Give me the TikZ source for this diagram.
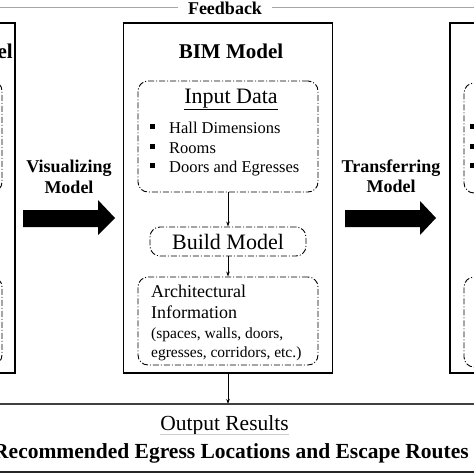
\documentclass[tikz,border=0pt]{standalone}
\usepackage{fontspec}
\setmainfont{Liberation Serif}
\usetikzlibrary{positioning}
\usetikzlibrary{arrows.meta}
\usetikzlibrary{calc}

\tikzset{
	mainbox/.style={draw, line width=1.5pt, minimum width=209pt, minimum height=350pt, inner sep=0pt},
	dotbox/.style={draw, rounded corners=10pt, line width=0.9pt, dash pattern=on 6pt off 2pt on 1pt off 2pt, inner sep=0pt},
	thinarrow/.style={-{Stealth[length=5pt,width=3.5pt]}, line width=0.7pt},
	bigtitle/.style={font=\fontsize{21}{24}\selectfont\bfseries, inner sep=0pt},
	arrowlabel/.style={font=\fontsize{18}{20.5}\selectfont\bfseries, align=center, inner sep=0pt},
	plain/.style={font=\fontsize{16.5}{19}\selectfont, inner sep=0pt},
}

\begin{document}
\begin{tikzpicture}[x=1pt,y=-1pt]
			\useasboundingbox (0,0) rectangle (474,474);
			\clip (0,0) rectangle (474,474);
			
			% Feedback line on top
			\node[font=\fontsize{18}{20}\selectfont\bfseries, anchor=base, inner xsep=10pt, inner ysep=0pt] (fb) at (225,14) {Feedback};
			\coordinate (fbL) at (0,7);
			\coordinate (fbR) at (474,7);
			\draw[gray!70, line width=0.9pt] (fbL) -- (fb.west |- fbL);
			\draw[gray!70, line width=0.9pt] (fb.east |- fbR) -- (fbR);
			
			% Define the three model boxes
			\node[mainbox] (left) at (-89.5,198) {};
			\node[mainbox] (bim) at (228,198) {};
			\node[mainbox] (right) at (554.5,198) {};
			
			% Left box (cut off)
			\node[bigtitle, anchor=base east] (lefttitle) at (13,58) {el};
			\node[dotbox, minimum width=180pt, minimum height=111pt] (leftin) at (-88,136.5) {};
			\node[dotbox, minimum width=180pt, minimum height=88pt] (leftarch) at (-88,321) {};
			
			% BIM box
			\node[bigtitle, anchor=base] (bimtitle) at (231,58) {BIM Model};
			\node[dotbox, minimum width=180pt, minimum height=111pt] (input) at (228,136.5) {};
			\node[font=\fontsize{22}{24}\selectfont, anchor=base, inner sep=0pt] (inputtitle) at (231,103) {\underline{Input Data}};
			\foreach \y/\txt in {133/Hall Dimensions, 153/Rooms, 172/Doors and Egresses}
			{
				\fill (150,\y-9.5) rectangle (155,\y-4.5);
				\node[plain, anchor=base west] at (169,\y) {\txt};
			}
			\node[dotbox, minimum width=156pt, minimum height=29pt, font=\fontsize{22}{24}\selectfont] (build) at (228,241.5) {Build Model};
			\node[dotbox, minimum width=180pt, minimum height=88pt] (arch) at (228,321) {};
			\node[font=\fontsize{18}{20}\selectfont, anchor=base west, inner sep=0pt] (arch1) at (151,297) {Architectural};
			\node[font=\fontsize{18}{20}\selectfont, anchor=base west, inner sep=0pt] (arch2) at (151,318) {Information};
			\node[font=\fontsize{15.5}{18}\selectfont, anchor=base west, inner sep=0pt] (arch3) at (151,338) {(spaces, walls, doors,};
			\node[font=\fontsize{15.5}{18}\selectfont, anchor=base west, inner sep=0pt] (arch4) at (151,357) {egresses, corridors, etc.)};
			
			% Right box (cut off)
			\node[dotbox, minimum width=180pt, minimum height=110pt] (rightin) at (554,138) {};
			\node[dotbox, minimum width=180pt, minimum height=90pt] (rightarch) at (554,322) {};
			\foreach \y in {133,153,172}
			\fill (470,\y-9.5) rectangle (475,\y-4.5);
			
			% Draw the thin arrows
			\draw[thinarrow] (input.south) -- (build.north);
			\draw[thinarrow] (build.south) -- (arch.north);
			\coordinate (outL) at (0,404);
			\coordinate (outR) at (474,404);
			\coordinate (outhit) at (228,404);
			\draw[thinarrow] (bim.south) -- (outhit);
			
			% Big arrows between boxes
			\node[arrowlabel] (vislabel) at (69,177) {Visualizing\\Model};
			\fill (23,210) -- (98,210) -- (98,200) -- (115,218) -- (98,235) -- (98,227) -- (23,227) -- cycle;
			\node[arrowlabel] (translabel) at (391,176) {Transferring\\Model};
			\fill (345,210) -- (420,210) -- (420,201) -- (436,218) -- (420,235) -- (420,227) -- (345,227) -- cycle;
			
			% Output part
			\draw[black!75, line width=1.2pt] (outL) -- (outR);
			\node[font=\fontsize{21.5}{24}\selectfont, anchor=base, inner sep=0pt] (outres) at (224.5,430) {Output Results};
			\draw[gray!40, line width=0.6pt] ($(outres.base west)+(0,4)$) -- ($(outres.base east)+(0,4)$);
			\node[font=\fontsize{21.5}{24}\selectfont\bfseries, anchor=base east, inner sep=0pt] (recom) at (469,458) {Recommended Egress Locations and Escape Routes};
			\coordinate (botL) at (0,472);
			\coordinate (botR) at (474,472);
			\draw[black!85, line width=2.5pt] (botL) -- (botR);
\end{tikzpicture}
\end{document}
